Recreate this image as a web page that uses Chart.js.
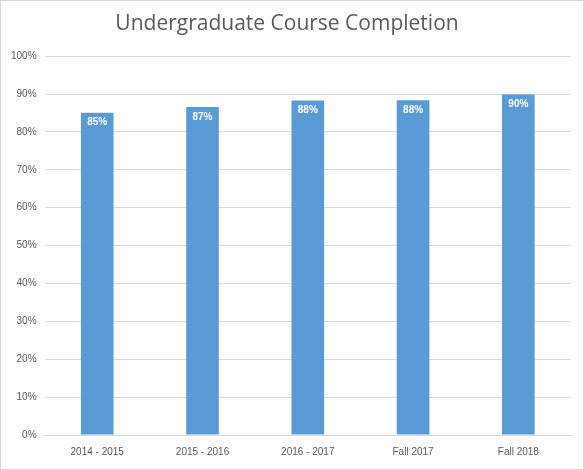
<!DOCTYPE html>
<html><head><meta charset="utf-8">
<script src="https://cdn.jsdelivr.net/npm/chart.js@4"></script>
<style>html,body{margin:0;padding:0;background:#fff}
#w{position:absolute;left:0;top:0;width:582px;height:468px;border:1px solid #d9d9d9}</style>
</head><body><div id="w"><canvas id="c"></canvas></div>
<script>
const categories = ["2014 - 2015","2015 - 2016","2016 - 2017","Fall 2017","Fall 2018"];
const values = [85.1, 86.6, 88.3, 88.4, 89.9];
const valueLabels = ["85%","87%","88%","88%","90%"];
const labelPlugin = {
  id:'lbl',
  afterDatasetsDraw(chart){
    const ctx=chart.ctx, meta=chart.getDatasetMeta(0);
    ctx.save();ctx.fillStyle='#fff';ctx.font='bold 10px "Liberation Sans", Arial';
    ctx.textAlign='center';ctx.textBaseline='top';
    meta.data.forEach((b,i)=>ctx.fillText(valueLabels[i],b.x,b.y+5));
    ctx.restore();
  }
};
new Chart(document.getElementById('c'),{
  type:'bar',
  data:{labels:categories,datasets:[{data:values,backgroundColor:'#5B9BD5',barPercentage:0.31,categoryPercentage:1}]},
  options:{
    responsive:true,maintainAspectRatio:false,animation:false,
    layout:{padding:{left:2,right:12,top:6,bottom:8}},
    plugins:{legend:{display:false},tooltip:{enabled:false},
      title:{display:true,text:'Undergraduate Course Completion',color:'#595959',
        font:{family:'"Open Sans", "Liberation Sans"',size:21,weight:'normal'},padding:{top:4,bottom:20}}},
    scales:{
      x:{grid:{display:false},border:{color:'#d9d9d9'},
        ticks:{color:'#595959',font:{family:'"Liberation Sans", Arial',size:10}}},
      y:{min:0,max:100,ticks:{stepSize:10,callback:v=>v+'%',color:'#595959',font:{family:'"Liberation Sans", Arial',size:10},padding:8},
        grid:{color:'#d9d9d9',drawTicks:false},border:{display:false}}
    }
  },
  plugins:[labelPlugin]
});
</script></body></html>
